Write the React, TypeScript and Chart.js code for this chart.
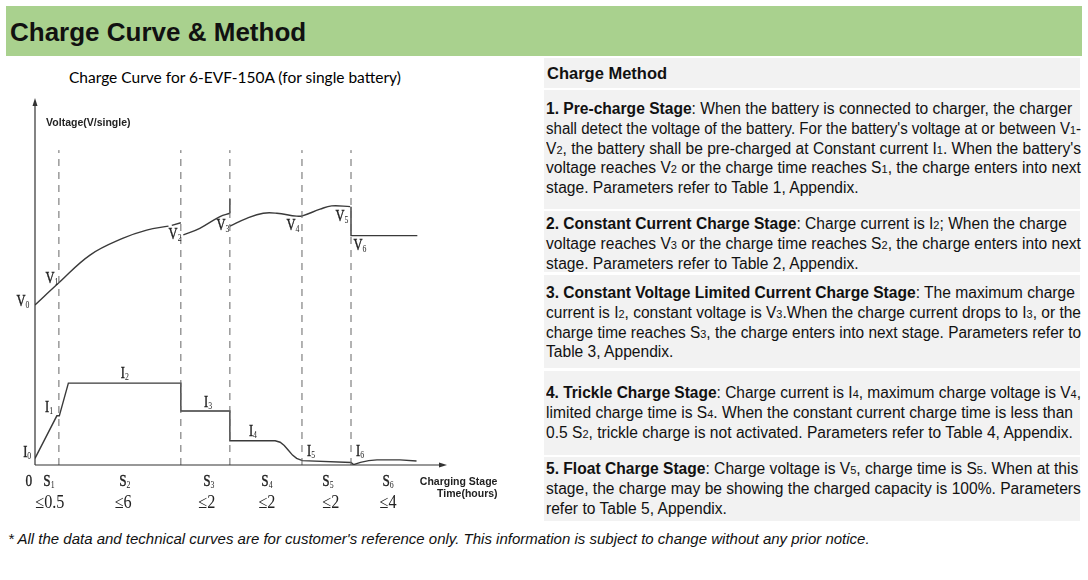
import React, { useEffect, useLayoutEffect, useRef } from "react";
import { Chart, registerables } from "chart.js";
Chart.register(...registerables);

// ---------- chart data (abstract units: x 0..100 along time axis, y 0..100 up the value axis) ----------
const stageBoundaries = [5.8, 35.4, 47.3, 64.8, 76.7];
const dashTop = 85.8;

const voltageStage1 = [[0, 43.6], [5.66, 49.5], [13.35, 57.2], [21.4, 61.8], [27.1, 64.0], [32.4, 65.1]];
const voltageV2Tick = [[33.2, 65.3], [35.4, 66.0]];
const voltageStage2 = [[36.0, 62.7], [40.0, 64.5], [44.9, 67.7], [47.3, 68.6]];
const voltageV3Tick = [[47.3, 68.6], [47.3, 72.5]];
const voltageStage3 = [[47.3, 65.1], [51.4, 67.2], [55.4, 68.6], [58.7, 68.6], [63.5, 67.8], [64.9, 67.9], [69.2, 69.7], [72.0, 70.6], [76.5, 70.4]];
const voltageFloat = [[76.7, 70.4], [76.7, 62.5], [92.8, 62.5]];

const currentCurve = [
  [0, 1.8], [5.3, 13.4], [5.9, 13.4], [8.1, 22.3], [35.4, 22.3], [35.4, 14.7], [47.3, 14.7], [47.3, 6.6],
  [58.3, 6.6], [59.5, 6.2], [60.5, 5.3], [61.5, 4.0], [62.5, 2.7], [63.5, 1.8], [64.9, 1.2],
  [76.7, 0.7], [77.3, 0.1], [79.0, 0.7], [81.0, 1.2], [83.0, 1.4], [88.6, 1.4], [92.6, 1.1],
];

const voltageLabels = [
  ["V", "0", -2.9, 44.4], ["V", "1", 4.1, 50.7], ["V", "2", 34.0, 62.7], ["V", "3", 45.6, 65.1],
  ["V", "4", 62.6, 65.1], ["V", "5", 74.5, 67.6], ["V", "6", 78.9, 59.7],
];
const currentLabels = [
  ["I", "0", -1.9, 3.3], ["I", "1", 3.4, 15.5], ["I", "2", 21.8, 24.8], ["I", "3", 42.0, 16.9],
  ["I", "4", 52.9, 9.0], ["I", "5", 67.0, 3.5], ["I", "6", 78.9, 3.5],
];
const stageLabels = [["0", "", -1.5], ["S", "1", 3.4], ["S", "2", 21.8], ["S", "3", 42.2], ["S", "4", 56.3], ["S", "5", 71.1], ["S", "6", 85.7]];
const stageHours = [["≤0.5", 3.6], ["≤6", 21.4], ["≤2", 41.7], ["≤2", 56.3], ["≤2", 71.8], ["≤4", 85.7]];
const stageRowY = -4.6;
const hoursRowY = -10.4;
const yAxisTitle = "Voltage(V/single)";
const xAxisTitle = ["Charging Stage", "Time(hours)"];

const pts = (a: number[][]) => a.map(([x, y]) => ({ x, y }));

const LINE = "#3a3a3a";

function drawSubLabel(ctx: CanvasRenderingContext2D, main: string, sub: string, cx: number, cy: number, size = 16) {
  ctx.save();
  ctx.translate(cx, cy);
  ctx.scale(0.78, 1);
  const mf = `${size}px "Liberation Serif", serif`;
  const sf = `${Math.round(size * 0.6)}px "Liberation Serif", serif`;
  ctx.font = mf;
  const w1 = ctx.measureText(main).width;
  ctx.font = sf;
  const w2 = sub ? ctx.measureText(sub).width : 0;
  const start = -(w1 + w2) / 2;
  ctx.fillStyle = "#222";
  ctx.strokeStyle = "#222";
  ctx.lineWidth = 0.4;
  ctx.textBaseline = "middle";
  ctx.textAlign = "left";
  ctx.font = mf;
  ctx.fillText(main, start, 0);
  ctx.strokeText(main, start, 0);
  if (sub) {
    ctx.font = sf;
    ctx.fillText(sub, start + w1, 3);
  }
  ctx.restore();
}

const annotPlugin = {
  id: "annot",
  afterDatasetsDraw(chart: any) {
    const ctx: CanvasRenderingContext2D = chart.ctx;
    const xs = chart.scales.x;
    const ys = chart.scales.y;
    const X = (v: number) => xs.getPixelForValue(v);
    const Y = (v: number) => ys.getPixelForValue(v);
    ctx.save();
    // axes
    ctx.strokeStyle = "#333";
    ctx.fillStyle = "#333";
    ctx.lineWidth = 1.2;
    ctx.beginPath();
    ctx.moveTo(X(0), Y(0));
    ctx.lineTo(X(0), Y(100) + 6);
    ctx.moveTo(X(0), Y(0));
    ctx.lineTo(X(100) - 6, Y(0));
    ctx.stroke();
    ctx.beginPath();
    ctx.moveTo(X(0), Y(100));
    ctx.lineTo(X(0) - 2.5, Y(100) + 8);
    ctx.lineTo(X(0) + 2.5, Y(100) + 8);
    ctx.closePath();
    ctx.fill();
    ctx.beginPath();
    ctx.moveTo(X(100), Y(0));
    ctx.lineTo(X(100) - 8, Y(0) - 2.5);
    ctx.lineTo(X(100) - 8, Y(0) + 2.5);
    ctx.closePath();
    ctx.fill();

    // labels
    voltageLabels.forEach(([m, s, x, y]) => drawSubLabel(ctx, m as string, s as string, X(x as number), Y(y as number)));
    currentLabels.forEach(([m, s, x, y]) => drawSubLabel(ctx, m as string, s as string, X(x as number), Y(y as number)));
    stageLabels.forEach(([m, s, x]) => drawSubLabel(ctx, m as string, s as string, X(x as number), Y(stageRowY), 17));
    ctx.fillStyle = "#222";
    ctx.textBaseline = "middle";
    ctx.textAlign = "center";
    stageHours.forEach(([t, x]) => {
      ctx.save();
      ctx.translate(X(x as number), Y(hoursRowY));
      ctx.scale(0.9, 1);
      ctx.font = `18px "Liberation Serif", serif`;
      ctx.fillText(t as string, 0, 0);
      ctx.restore();
    });
    ctx.textAlign = "left";
    ctx.font = `bold 10.5px "Liberation Sans", Arial, sans-serif`;
    ctx.fillStyle = "#222";
    ctx.fillText(yAxisTitle, X(2.7), Y(93.2));
    ctx.fillText(xAxisTitle[0], X(93.4), Y(stageRowY));
    ctx.fillText(xAxisTitle[1], X(97.6), Y(stageRowY) + 12);
    ctx.restore();
  },
};

function ChargeChart() {
  const ref = useRef<HTMLCanvasElement>(null);
  useEffect(() => {
    if (!ref.current) return;
    const dashSets = stageBoundaries.map((b) => ({
      data: [{ x: b, y: 0 }, { x: b, y: dashTop }],
      borderColor: "#666",
      borderWidth: 1,
      borderDash: [7, 6],
      pointRadius: 0,
      tension: 0,
    }));
    const line = (d: number[][], tension: number) => ({
      data: pts(d),
      borderColor: LINE,
      borderWidth: 1.4,
      pointRadius: 0,
      tension,
    });
    const chart = new Chart(ref.current, {
      type: "scatter",
      data: {
        datasets: [
          ...dashSets,
          line(voltageStage1, 0.4),
          line(voltageV2Tick, 0),
          line(voltageStage2, 0.4),
          line(voltageV3Tick, 0),
          line(voltageStage3, 0.4),
          line(voltageFloat, 0),
          line(currentCurve, 0),
        ].map((d: any) => ({ ...d, showLine: true })),
      },
      options: {
        animation: false,
        responsive: false,
        layout: { padding: { left: 35, right: 93, top: 8, bottom: 65 } },
        plugins: { legend: { display: false }, tooltip: { enabled: false } },
        scales: {
          x: { type: "linear", min: 0, max: 100, display: false },
          y: { type: "linear", min: 0, max: 100, display: false },
        },
      },
      plugins: [annotPlugin],
    });
    return () => chart.destroy();
  }, []);
  return <canvas ref={ref} width={540} height={440} style={{ position: "absolute", left: 0, top: 90, width: 540, height: 440 }} />;
}

// ---------- right panel text ----------
function rich(s: string) {
  // **bold**, _d subscript
  const out: any[] = [];
  const parts = s.split(/(\*\*[^*]+\*\*)/);
  parts.forEach((p, i) => {
    if (p.startsWith("**")) {
      out.push(<b key={"b" + i}>{p.slice(2, -2)}</b>);
    } else {
      const sp = p.split(/(_\d)/);
      sp.forEach((q, j) => {
        if (q.startsWith("_")) out.push(<span key={i + "s" + j} style={{ fontSize: 11 }}>{q.slice(1)}</span>);
        else if (q) out.push(<React.Fragment key={i + "t" + j}>{q}</React.Fragment>);
      });
    }
  });
  return out;
}

const MAXW = 535;
function FitLine({ text }: { text: string }) {
  const ref = useRef<HTMLSpanElement>(null);
  useLayoutEffect(() => {
    const el = ref.current;
    if (!el) return;
    el.style.transform = "";
    const w = el.getBoundingClientRect().width;
    if (w > MAXW) el.style.transform = `scaleX(${MAXW / w})`;
  }, [text]);
  return (
    <div style={{ height: 19.8 }}>
      <span ref={ref} style={{ display: "inline-block", transformOrigin: "0 50%", whiteSpace: "nowrap" }}>{rich(text)}</span>
    </div>
  );
}

const boxes = [
  { top: 90, h: 119, text: 99, lines: [
    "**1. Pre-charge Stage**: When the battery is connected to charger, the charger",
    "shall detect the voltage of the battery. For the battery's voltage at or between V_1-",
    "V_2, the battery shall be pre-charged at Constant current I_1. When the battery's",
    "voltage reaches V_2 or the charge time reaches S_1, the charge enters into next",
    "stage. Parameters refer to Table 1, Appendix.",
  ] },
  { top: 211, h: 61, text: 214, lines: [
    "**2. Constant Current Charge Stage**: Charge current is I_2; When the charge",
    "voltage reaches V_3 or the charge time reaches S_2, the charge enters into next",
    "stage. Parameters refer to Table 2, Appendix.",
  ] },
  { top: 275, h: 93, text: 283, lines: [
    "**3. Constant Voltage Limited Current Charge Stage**: The maximum charge",
    "current is I_2, constant voltage is V_3.When the charge current drops to I_3, or the",
    "charge time reaches S_3, the charge enters into next stage. Parameters refer to",
    "Table 3, Appendix.",
  ] },
  { top: 371, h: 84, text: 383, lines: [
    "**4. Trickle Charge Stage**: Charge current is I_4, maximum charge voltage is V_4,",
    "limited charge time is S_4. When the constant current charge time is less than",
    "0.5 S_2, trickle charge is not activated. Parameters refer to Table 4, Appendix.",
  ] },
  { top: 457, h: 64, text: 459, lines: [
    "**5. Float Charge Stage**: Charge voltage is V_5, charge time is S_5. When at this",
    "stage, the charge may be showing the charged capacity is 100%. Parameters",
    "refer to Table 5, Appendix.",
  ] },
];

const SANS = '"Liberation Sans", Arial, sans-serif';

export default function App() {
  return (
    <div style={{ position: "absolute", left: 0, top: 0, width: 1088, height: 580, background: "#fff", overflow: "hidden", fontFamily: SANS, color: "#111" }}>
      <div style={{ position: "absolute", left: 6, top: 6, width: 1076, height: 50, background: "#a9d18e" }}>
        <div style={{ position: "absolute", left: 4, top: 0, lineHeight: "50px", fontSize: 26, fontWeight: "bold", color: "#111", whiteSpace: "nowrap", paddingTop: 1 }}>
          Charge Curve &amp; Method
        </div>
      </div>
      <div style={{ position: "absolute", left: 69, top: 66, lineHeight: "22px", fontSize: 15.5, fontFamily: 'Lato, "Noto Sans", sans-serif', whiteSpace: "nowrap", color: "#000" }}>
        Charge Curve for 6-EVF-150A (for single battery)
      </div>
      <ChargeChart />
      <div style={{ position: "absolute", left: 544, top: 58, width: 536, height: 30, background: "#f2f2f2" }}>
        <div style={{ position: "absolute", left: 3, top: 0, lineHeight: "30px", fontSize: 16.5, fontWeight: "bold", whiteSpace: "nowrap" }}>Charge Method</div>
      </div>
      {boxes.map((b, i) => (
        <div key={"bg" + i} style={{ position: "absolute", left: 544, top: b.top, width: 536, height: b.h, background: "#f2f2f2" }} />
      ))}
      {boxes.map((b, i) => (
        <div key={"tx" + i} style={{ position: "absolute", left: 546, top: b.text, fontSize: 15.6, lineHeight: "19.8px", color: "#111" }}>
          {b.lines.map((l, j) => <FitLine key={j} text={l} />)}
        </div>
      ))}
      <div style={{ position: "absolute", left: 8, top: 530, lineHeight: "18px", fontSize: 15, fontStyle: "italic", whiteSpace: "nowrap", color: "#111" }}>
        * All the data and technical curves are for customer's reference only. This information is subject to change without any prior notice.
      </div>
    </div>
  );
}
